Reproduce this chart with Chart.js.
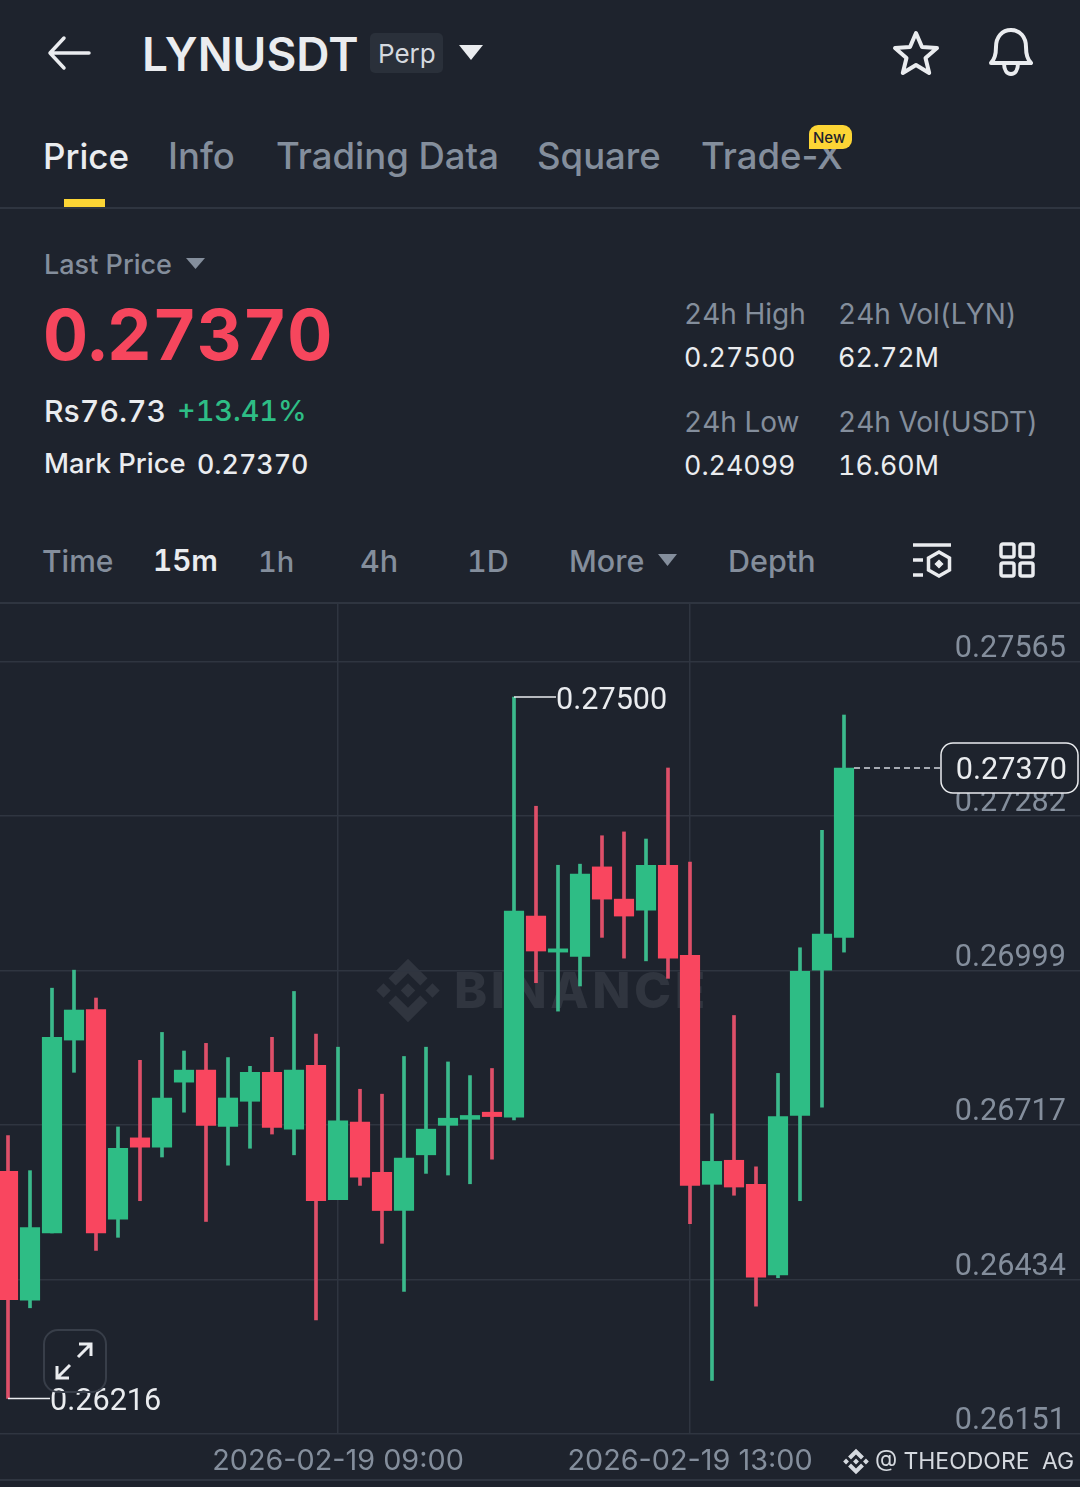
<!DOCTYPE html>
<html>
<head>
<meta charset="utf-8">
<title>LYNUSDT Perp</title>
<script src="https://cdn.jsdelivr.net/npm/chart.js@4/dist/chart.umd.min.js"></script>
<style>
  html, body { margin: 0; padding: 0; background: #1e232d; }
  body { position: relative; width: 1080px; height: 1487px; overflow: hidden; font-family: Inter, "Noto Sans", sans-serif; font-variant-numeric: tabular-nums; color: #eaecef; }
  .t { position: absolute; white-space: nowrap; transform: translateY(-50%); line-height: 1; }
  .grey { color: #848e9c; }
  .line { position: absolute; left: 0; width: 1080px; height: 1.5px; background: #2f3540; }
  .tab { font-size: 36.5px; font-weight: 500; font-variant-numeric: normal; }
  .small { font-size: 28px; }
  .val { font-size: 26.8px; }
  .range { font-size: 30.5px; font-weight: 500; }
  svg { position: absolute; overflow: visible; }
  #chartWrap { position: absolute; left: 0; top: 603px; width: 1080px; height: 877px; }
  #klineChart { font-variant-numeric: normal; }
</style>
</head>
<body>

<svg style="left:48px;top:36px" width="43" height="34" fill="none" stroke="#eaecef" stroke-width="3.5" stroke-linecap="round" stroke-linejoin="round">
  <path d="M41 17H2M16 2L2 17l14 15"/>
</svg>
<div class="t" style="left:142px;top:54px;font-size:46px;font-weight:600">LYNUSDT</div>
<div style="position:absolute;left:370px;top:33px;width:73px;height:40px;border-radius:5px;background:#2a303a"></div>
<div class="t" style="left:378px;top:54px;font-size:26px;color:#d5d9df">Perp</div>
<svg style="left:459px;top:45px" width="24" height="15"><path d="M0 0H24L12 15Z" fill="#eaecef"/></svg>
<svg style="left:893px;top:30px" width="46" height="46" viewBox="0 0 46 46" fill="none" stroke="#eaecef" stroke-width="4" stroke-linejoin="round">
  <path d="M23 3l6 14 15 1-11.500 10 3.700 15L23 35 9.800 43l3.700-15L2 18l15-1z"/>
</svg>
<svg style="left:988px;top:28px" width="46" height="48" viewBox="0 0 46 48" fill="none" stroke="#eaecef" stroke-width="4" stroke-linejoin="round">
  <path d="M3 35c4-4 5-8 5-16C8 9 14 2 23 2s15 7 15 17c0 8 1 12 5 16z"/><path d="M16 35c0 7 3 11 7 11s7-4 7-11"/>
</svg>

<div class="t tab" style="left:43px;top:156px;font-size:35px;color:#eaecef">Price</div>
<div class="t tab grey" style="left:168px;top:156px">Info</div>
<div class="t tab grey" style="left:276px;top:156px">Trading Data</div>
<div class="t tab grey" style="left:537px;top:156px">Square</div>
<div class="t tab grey" style="left:701px;top:156px">Trade-X</div>
<div style="position:absolute;left:809px;top:125px;width:43px;height:24px;border-radius:9px 9px 9px 0;background:#fcd535"></div>
<div class="t" style="left:813px;top:137px;font-size:15px;font-weight:500;color:#1e232d">New</div>
<div style="position:absolute;left:64px;top:199px;width:41px;height:8px;background:#fcd535"></div>
<div class="line" style="top:207px"></div>

<div class="t grey" style="left:44px;top:264px;font-size:27px;font-weight:500">Last Price</div>
<svg style="left:186px;top:258px" width="19" height="11"><path d="M0 0H19L9.500 11Z" fill="#848e9c"/></svg>
<div class="t" style="left:43px;top:335px;font-size:69.8px;font-weight:700;color:#f6465d">0.27370</div>
<div class="t" style="left:44px;top:411px;font-size:30.2px;font-weight:500">Rs76.73</div>
<div class="t" style="left:177px;top:411px;font-size:28.8px;font-weight:500;color:#2ebd85">+13.41%</div>
<div class="t" style="left:44px;top:464px;font-size:27.4px;font-weight:500">Mark Price</div>
<div class="t" style="left:197px;top:464px;font-size:26.8px;font-weight:500">0.27370</div>

<div class="t grey small" style="left:684px;top:314px">24h High</div>
<div class="t val" style="left:684px;top:357px">0.27500</div>
<div class="t grey small" style="left:838px;top:314px">24h Vol(LYN)</div>
<div class="t val" style="left:838px;top:357px">62.72M</div>
<div class="t grey small" style="left:684px;top:422px">24h Low</div>
<div class="t val" style="left:684px;top:465px">0.24099</div>
<div class="t grey small" style="left:838px;top:422px">24h Vol(USDT)</div>
<div class="t val" style="left:838px;top:465px">16.60M</div>

<div class="t grey range" style="left:42px;top:561px;font-size:30px">Time</div>
<div class="t range" style="left:153px;top:561px;font-size:29.6px;font-weight:600;color:#eaecef">15m</div>
<div class="t grey range" style="left:258px;top:561px;font-size:29px">1h</div>
<div class="t grey range" style="left:360px;top:561px">4h</div>
<div class="t grey range" style="left:467px;top:561px">1D</div>
<div class="t grey range" style="left:569px;top:561px">More</div>
<svg style="left:658px;top:554px" width="19" height="12"><path d="M0 0H19L9.500 12Z" fill="#848e9c"/></svg>
<div class="t grey range" style="left:728px;top:561px">Depth</div>
<svg style="left:913px;top:543px" width="39" height="36" fill="none" stroke="#eaecef" stroke-width="3.500">
  <path d="M0 2H38M0 17H10M0 32H10"/>
  <path d="M26 9l10.500 6v12L26 33l-10.500-6V15z"/>
  <path d="M26 17.500l3.500 3.500-3.500 3.500-3.500-3.500z" fill="#eaecef" stroke-width="1.500"/>
</svg>
<svg style="left:999px;top:542px" width="36" height="36" fill="none" stroke="#eaecef" stroke-width="3.500">
  <rect x="2" y="2" width="13" height="13" rx="2"/><rect x="21" y="2" width="13" height="13" rx="2"/>
  <rect x="2" y="21" width="13" height="13" rx="2"/><rect x="21" y="21" width="13" height="13" rx="2"/>
</svg>
<div class="line" style="top:602px"></div>

<svg style="left:376px;top:958px" width="64" height="65" viewBox="0 0 126 126" fill="#30353f">
  <path d="M38.730 53.200L63 28.930l24.280 24.280 14.120-14.120L63 .690 24.610 39.080zM.690 63l14.120-14.120L28.930 63 14.810 77.120zM38.730 72.800L63 97.070l24.280-24.280 14.130 14.110L63 125.310 24.610 86.920l-.020-.020zM97.070 63l14.120-14.120L125.310 63l-14.120 14.120zM77.320 63L63 48.670 52.410 59.260l-1.220 1.210-2.510 2.510L63 77.320 77.320 63z"/>
</svg>
<div class="t" style="left:454px;top:990px;font-size:50px;font-weight:800;letter-spacing:3.5px;color:#30353f">BINANCE</div>

<div id="chartWrap"><canvas id="klineChart" width="1080" height="877"></canvas></div>

<div style="position:absolute;left:43px;top:1329px;width:60px;height:60px;border:2px solid #383e49;border-radius:15px"></div>
<svg style="left:55px;top:1342px" width="38" height="38" fill="none" stroke="#eaecef" stroke-width="3">
  <path d="M23 15L36 2M24 2H36V14M15 23L2 36M2 24V36H14"/>
</svg>

<svg style="left:843px;top:1448px" width="26" height="27" viewBox="0 0 126 126" fill="#d5d9df">
  <path d="M38.730 53.200L63 28.930l24.280 24.280 14.120-14.120L63 .690 24.610 39.080zM.690 63l14.120-14.120L28.930 63 14.810 77.120zM38.730 72.800L63 97.070l24.280-24.280 14.130 14.110L63 125.310 24.610 86.920l-.020-.020zM97.070 63l14.120-14.120L125.310 63l-14.120 14.120zM77.320 63L63 48.670 52.410 59.260l-1.220 1.210-2.510 2.510L63 77.320 77.320 63z"/>
</svg>
<div class="t" style="left:875px;top:1461px;font-size:23px;color:#d5d9df;white-space:pre">@ THEODORE  AG</div>

<script>
const candleTimes = ['05:15','05:30','05:45','06:00','06:15','06:30','06:45','07:00','07:15','07:30','07:45','08:00','08:15','08:30','08:45','09:00','09:15','09:30','09:45','10:00','10:15','10:30','10:45','11:00','11:15','11:30','11:45','12:00','12:15','12:30','12:45','13:00','13:15','13:30','13:45','14:00','14:15','14:30','14:45'];
const opens = [0.26632,0.26396,0.26519,0.26872,0.26928,0.26544,0.26693,0.26676,0.26795,0.26817,0.26714,0.26760,0.26813,0.26709,0.26826,0.26580,0.26722,0.26630,0.26560,0.26662,0.26716,0.26727,0.26740,0.26731,0.27099,0.27033,0.27025,0.27189,0.27130,0.27110,0.27192,0.27027,0.26608,0.26652,0.26608,0.26442,0.26734,0.27000,0.27060];
const highs = [0.26697,0.26633,0.26967,0.27000,0.26949,0.26713,0.26835,0.26886,0.26852,0.26866,0.26840,0.26824,0.26877,0.26961,0.26883,0.26859,0.26782,0.26773,0.26842,0.26859,0.26832,0.26807,0.26820,0.27500,0.27300,0.27192,0.27194,0.27246,0.27253,0.27240,0.27370,0.27198,0.26737,0.26917,0.26640,0.26811,0.27041,0.27256,0.27467];
const lows = [0.26216,0.26382,0.26519,0.26813,0.26487,0.26511,0.26578,0.26658,0.26740,0.26540,0.26643,0.26674,0.26700,0.26662,0.26360,0.26580,0.26606,0.26500,0.26412,0.26628,0.26625,0.26609,0.26654,0.26726,0.26977,0.26925,0.26971,0.27060,0.27022,0.27017,0.26985,0.26536,0.26249,0.26588,0.26385,0.26437,0.26578,0.26749,0.27033];
const closes = [0.26397,0.26529,0.26877,0.26927,0.26519,0.26674,0.26676,0.26766,0.26817,0.26716,0.26766,0.26813,0.26712,0.26817,0.26578,0.26724,0.26621,0.26560,0.26656,0.26709,0.26729,0.26734,0.26732,0.27108,0.27035,0.27039,0.27176,0.27130,0.27099,0.27192,0.27022,0.26606,0.26650,0.26603,0.26438,0.26732,0.26998,0.27066,0.27370];
const priceTicks = [0.26151,0.26434,0.26717,0.26999,0.27282,0.27565];
const timeTicks = ['09:00','13:00'];
const dateLabel = '2026-02-19';
const lastPrice = 0.27370;
const highMark = { index: 23, price: 0.27500 };
const lowMark = { index: 0, price: 0.26216 };

const UP = '#2ebd85', DOWN = '#f9465f';
const UP_WICK = '#3bb98c', DOWN_WICK = '#de4f69';
const GRID = '#2f3540';
const FONT = 'Inter, "Noto Sans", sans-serif';
const NUM_FONT = 'Roboto, "Noto Sans", sans-serif';

const isUp = (i) => closes[i] >= opens[i];

// high, low and last-price callouts on top of the candles
const calloutPlugin = {
  id: 'callouts',
  afterDraw(chart) {
    const { ctx, scales: { x, y } } = chart;
    ctx.save();
    ctx.font = '30.6px ' + NUM_FONT;
    ctx.textBaseline = 'middle';
    ctx.textAlign = 'left';

    [highMark, lowMark].forEach((m) => {
      const px = x.getPixelForValue(m.index);
      const py = y.getPixelForValue(m.price);
      ctx.strokeStyle = '#eaecef';
      ctx.lineWidth = 1.5;
      ctx.beginPath();
      ctx.moveTo(px, py);
      ctx.lineTo(px + 42, py);
      ctx.stroke();
      ctx.fillStyle = '#eaecef';
      ctx.fillText(m.price.toFixed(5), px + 42, py + 4);
    });

    const py = y.getPixelForValue(lastPrice);
    ctx.setLineDash([6, 4]);
    ctx.strokeStyle = '#d5d9df';
    ctx.lineWidth = 1.5;
    ctx.beginPath();
    ctx.moveTo(x.getPixelForValue(38) + 10, py);
    ctx.lineTo(940, py);
    ctx.stroke();
    ctx.setLineDash([]);

    ctx.beginPath();
    ctx.roundRect(941, py - 25, 137, 50, 12);
    ctx.fillStyle = '#1e232d';
    ctx.fill();
    ctx.strokeStyle = '#eaecef';
    ctx.stroke();
    ctx.fillStyle = '#eaecef';
    ctx.textAlign = 'right';
    ctx.fillText(lastPrice.toFixed(5), 1067, py + 3);
    ctx.restore();
  }
};

new Chart(document.getElementById('klineChart'), {
  type: 'bar',
  data: {
    datasets: [
      {
        label: 'body',
        order: 1,
        data: candleTimes.map((t, i) => ({ x: i, y: [opens[i], closes[i]] })),
        backgroundColor: candleTimes.map((t, i) => (isUp(i) ? UP : DOWN)),
        barThickness: 19.5
      },
      {
        label: 'wick',
        order: 2,
        data: candleTimes.map((t, i) => ({ x: i, y: [lows[i], highs[i]] })),
        backgroundColor: candleTimes.map((t, i) => (isUp(i) ? UP_WICK : DOWN_WICK)),
        barThickness: 3
      }
    ]
  },
  options: {
    responsive: false,
    animation: false,
    layout: { padding: 0 },
    datasets: { bar: { grouped: false, borderWidth: 0, borderSkipped: false } },
    plugins: { legend: { display: false }, tooltip: { enabled: false } },
    scales: {
      x: {
        type: 'linear',
        offset: false,
        min: -8 / 22,
        max: 1072 / 22,
        afterBuildTicks: (scale) => {
          scale.ticks = timeTicks.map((t) => ({ value: candleTimes.indexOf(t) }));
        },
        afterFit: (scale) => {
          scale.height = 46;
          scale.paddingLeft = 0;
          scale.paddingRight = 0;
        },
        grid: { color: GRID, lineWidth: 1.5, drawTicks: false, offset: false },
        border: { display: false },
        ticks: {
          autoSkip: false,
          maxRotation: 0,
          padding: 10,
          color: '#848e9c',
          font: { family: FONT, size: 28.8 },
          callback: (v) => dateLabel + ' ' + candleTimes[v]
        }
      },
      y: {
        position: 'right',
        min: 0.26151,
        max: 0.27672,
        afterBuildTicks: (scale) => {
          scale.ticks = priceTicks.map((value) => ({ value }));
        },
        afterFit: (scale) => {
          scale.width = 0;
          scale.paddingTop = 0;
          scale.paddingBottom = 0;
        },
        grid: { color: GRID, lineWidth: 1.5, drawTicks: false },
        border: { display: false },
        ticks: {
          mirror: true,
          autoSkip: false,
          padding: -14,
          labelOffset: -12.5,
          color: '#848e9c',
          font: { family: NUM_FONT, size: 30.6 },
          callback: (v) => v.toFixed(5)
        }
      }
    }
  },
  plugins: [calloutPlugin]
});
</script>
<div class="line" style="top:1479px"></div>
</body>
</html>
